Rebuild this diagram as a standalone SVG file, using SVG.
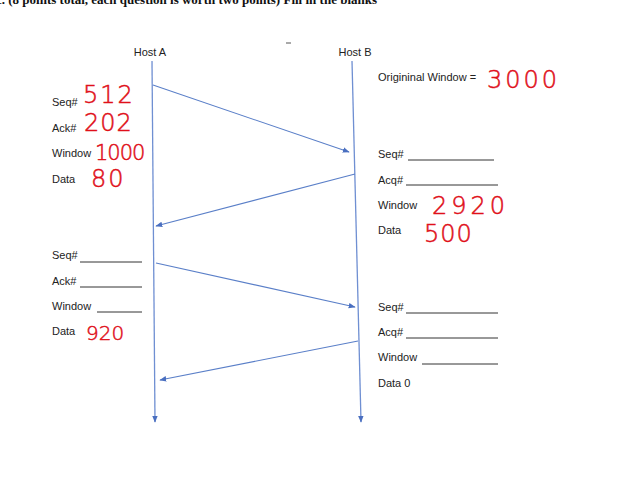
<svg xmlns="http://www.w3.org/2000/svg" width="629" height="493" viewBox="0 0 629 493">
<style>
.lbl{font-family:"Liberation Sans",Arial,sans-serif;font-size:11px;fill:#222}
.hw{font-family:"DejaVu Sans","Liberation Sans",sans-serif;font-size:24px;font-weight:300;fill:#e0101a;stroke:#e0101a;stroke-width:0.5;letter-spacing:2px}
.blank{stroke:#333;stroke-width:1}
.life{stroke:#6f8fd2;stroke-width:1.3;fill:none}
.msg{stroke:#5a7fc8;stroke-width:1.1;fill:none}
</style>
<defs>
<marker id="ah" viewBox="0 0 10 10" refX="9" refY="5" markerWidth="7" markerHeight="7" orient="auto-start-reverse" markerUnits="userSpaceOnUse">
<path d="M0,1 L10,5 L0,9 z" fill="#4a6fc0"/>
</marker>
</defs>
<rect width="629" height="493" fill="#fff"/>
<text x="-4" y="4" style="font-family:'Liberation Serif',serif;font-size:13px;font-weight:bold;fill:#111">c. (8 points total, each question is worth two points) Fill in the blanks</text>
<line x1="286" y1="43" x2="291" y2="43" stroke="#555" stroke-width="1"/>
<g id="hostA">
<text class="lbl" x="150" y="56" text-anchor="middle">Host A</text>
<line class="life" x1="152" y1="61" x2="155" y2="422" marker-end="url(#ah)"/>
</g>
<g id="hostB">
<text class="lbl" x="355" y="56" text-anchor="middle">Host B</text>
<line class="life" x1="352" y1="61" x2="361" y2="422" marker-end="url(#ah)"/>
</g>
<g id="connectors">
<line class="msg" x1="153" y1="85" x2="349" y2="152" marker-end="url(#ah)"/>
<line class="msg" x1="355" y1="174" x2="156" y2="226" marker-end="url(#ah)"/>
<line class="msg" x1="156" y1="263" x2="355" y2="307" marker-end="url(#ah)"/>
<line class="msg" x1="358" y1="341" x2="160" y2="380" marker-end="url(#ah)"/>
</g>
<g id="segA1">
<text class="lbl" x="52" y="106">Seq#</text>
<text class="hw" x="83" y="103">512</text>
<text class="lbl" x="52" y="132">Ack#</text>
<text class="hw" x="84" y="131" style="letter-spacing:1px">202</text>
<text class="lbl" x="52" y="157">Window</text>
<text class="hw" x="95" y="160" style="font-size:21px;letter-spacing:-1px">1000</text>
<text class="lbl" x="52" y="183">Data</text>
<text class="hw" x="91" y="187">80</text>
</g>
<g id="origWindow">
<text class="lbl" x="378" y="81">Origininal Window =</text>
<text class="hw" x="487" y="88" style="letter-spacing:3px">3000</text>
</g>
<g id="segB1">
<text class="lbl" x="378" y="158">Seq#</text>
<line class="blank" x1="408" y1="160" x2="494" y2="160"/>
<text class="lbl" x="378" y="184">Acq#</text>
<line class="blank" x1="406" y1="185" x2="498" y2="185"/>
<text class="lbl" x="378" y="209">Window</text>
<text class="hw" x="432" y="214" style="letter-spacing:4px">2920</text>
<text class="lbl" x="378" y="234">Data</text>
<text class="hw" x="424" y="242" style="letter-spacing:1px">500</text>
</g>
<g id="segA2">
<text class="lbl" x="52" y="259">Seq#</text>
<line class="blank" x1="80" y1="262" x2="142" y2="262"/>
<text class="lbl" x="52" y="285">Ack#</text>
<line class="blank" x1="80" y1="287" x2="142" y2="287"/>
<text class="lbl" x="52" y="310">Window</text>
<line class="blank" x1="97" y1="312" x2="142" y2="312"/>
<text class="lbl" x="52" y="335">Data</text>
<text class="hw" x="86" y="340" style="font-size:20px;letter-spacing:0px">920</text>
</g>
<g id="segB2">
<text class="lbl" x="378" y="311">Seq#</text>
<line class="blank" x1="406" y1="313" x2="498" y2="313"/>
<text class="lbl" x="378" y="336">Acq#</text>
<line class="blank" x1="406" y1="338" x2="498" y2="338"/>
<text class="lbl" x="378" y="361">Window</text>
<line class="blank" x1="422" y1="364" x2="498" y2="364"/>
<text class="lbl" x="378" y="387">Data 0</text>
</g>
</svg>
